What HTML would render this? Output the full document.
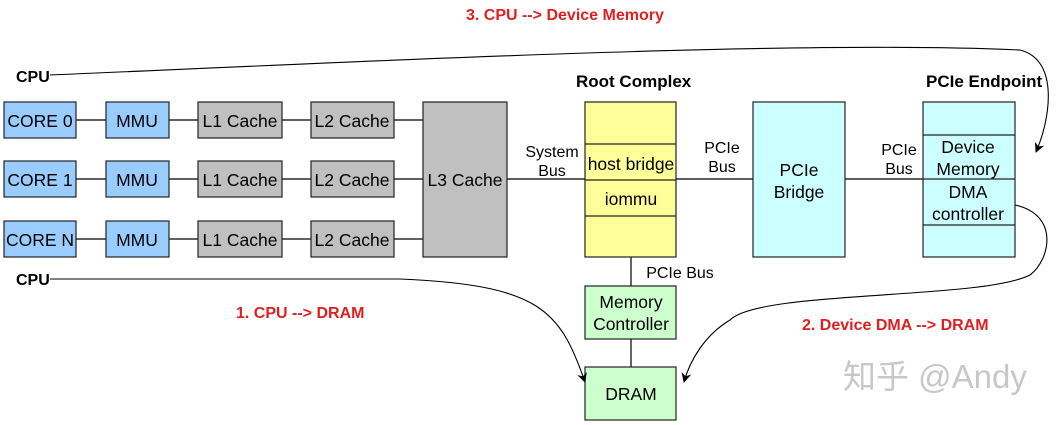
<!DOCTYPE html>
<html><head><style>
body{margin:0;background:#fff;}
svg{display:block;font-family:"Liberation Sans",sans-serif;}
</style></head><body>
<svg width="1063" height="425" viewBox="0 0 1063 425">
<defs><marker id="a" markerWidth="10" markerHeight="10" refX="9" refY="5" orient="auto" markerUnits="userSpaceOnUse"><path d="M0,0 L10,5 L0,10 L3,5 Z" fill="#000"/></marker></defs>
<g stroke="#000" stroke-width="1.2" fill="none">
<line x1="76" y1="120" x2="423" y2="120"/><line x1="76" y1="179" x2="423" y2="179"/><line x1="76" y1="239" x2="423" y2="239"/>
<line x1="507" y1="179" x2="923" y2="179"/>
<line x1="631" y1="257" x2="631" y2="367"/>
</g>
<g stroke="#222" stroke-width="1.2">
<g fill="#99ccff">
<rect x="4" y="102" width="72" height="36"/><rect x="4" y="161" width="72" height="36"/><rect x="4" y="221" width="72" height="36"/>
<rect x="106" y="102" width="63" height="36"/><rect x="106" y="161" width="63" height="36"/><rect x="106" y="221" width="63" height="36"/>
</g>
<g fill="#c0c0c0">
<rect x="198" y="102" width="84" height="36"/><rect x="198" y="161" width="84" height="36"/><rect x="198" y="221" width="84" height="36"/>
<rect x="311" y="102" width="83" height="36"/><rect x="311" y="161" width="83" height="36"/><rect x="311" y="221" width="83" height="36"/>
<rect x="423" y="102" width="84" height="155"/>
</g>
<rect x="585" y="102" width="91" height="155" fill="#ffff99"/>
<line x1="585" y1="144" x2="676" y2="144"/><line x1="585" y1="180" x2="676" y2="180"/><line x1="585" y1="216" x2="676" y2="216"/>
<rect x="753" y="102" width="92" height="155" fill="#ccffff"/>
<rect x="923" y="102" width="92" height="155" fill="#ccffff"/>
<line x1="923" y1="135" x2="1015" y2="135"/><line x1="923" y1="179" x2="1015" y2="179"/><line x1="923" y1="225" x2="1015" y2="225"/>
<rect x="585" y="286" width="91" height="53" fill="#ccffcc"/>
<rect x="585" y="367" width="91" height="53" fill="#ccffcc"/>
</g>
<g stroke="#000" stroke-width="1.1" fill="none">
<path d="M50,75 C400,60 800,40 1020,50 C1060,60 1050,120 1036,152" marker-end="url(#a)"/>
<path d="M50,279 L400,279 C540,285 560,310 585,382" marker-end="url(#a)"/>
<path d="M1015,205 C1060,215 1050,260 1030,275 C980,300 760,290 730,320 C705,335 690,360 684,382" marker-end="url(#a)"/>
</g>
<g font-size="17.5" fill="#000" text-anchor="middle">
<text x="40" y="127">CORE 0</text><text x="40" y="186">CORE 1</text><text x="40" y="246">CORE N</text>
<text x="137" y="127">MMU</text><text x="137" y="186">MMU</text><text x="137" y="246">MMU</text>
<text x="240" y="127">L1 Cache</text><text x="240" y="186">L1 Cache</text><text x="240" y="246">L1 Cache</text>
<text x="352" y="127">L2 Cache</text><text x="352" y="186">L2 Cache</text><text x="352" y="246">L2 Cache</text>
<text x="465" y="186">L3 Cache</text>
<text x="631" y="170">host bridge</text><text x="631" y="205">iommu</text>
<text x="799" y="176">PCIe</text><text x="799" y="198">Bridge</text>
<text x="968" y="153">Device</text><text x="968" y="175">Memory</text>
<text x="968" y="198">DMA</text><text x="968" y="220">controller</text>
<text x="631" y="308">Memory</text><text x="631" y="330">Controller</text>
<text x="631" y="400">DRAM</text>
</g>
<g font-size="16" fill="#000" text-anchor="middle">
<text x="552" y="157">System</text><text x="552" y="176">Bus</text>
<text x="722" y="153">PCIe</text><text x="722" y="172">Bus</text>
<text x="899" y="155">PCIe</text><text x="899" y="174">Bus</text>
<text x="680" y="278">PCIe Bus</text>
</g>
<g font-size="16" font-weight="bold" fill="#000">
<text x="16" y="82">CPU</text><text x="16" y="285">CPU</text>
<text x="576" y="87" font-size="17">Root Complex</text><text x="926" y="87" font-size="17">PCIe Endpoint</text>
</g>
<g font-size="16" font-weight="bold" fill="#e02020">
<text x="466" y="20">3. CPU --&gt; Device Memory</text>
<text x="236" y="318">1. CPU --&gt; DRAM</text>
<text x="802" y="330">2. Device DMA --&gt; DRAM</text>
</g>
<text x="843" y="388" font-size="33" fill="#c8c8c8" font-family="Liberation Sans,Noto Sans CJK SC,sans-serif">知乎 @Andy</text>
</svg>
</body></html>
